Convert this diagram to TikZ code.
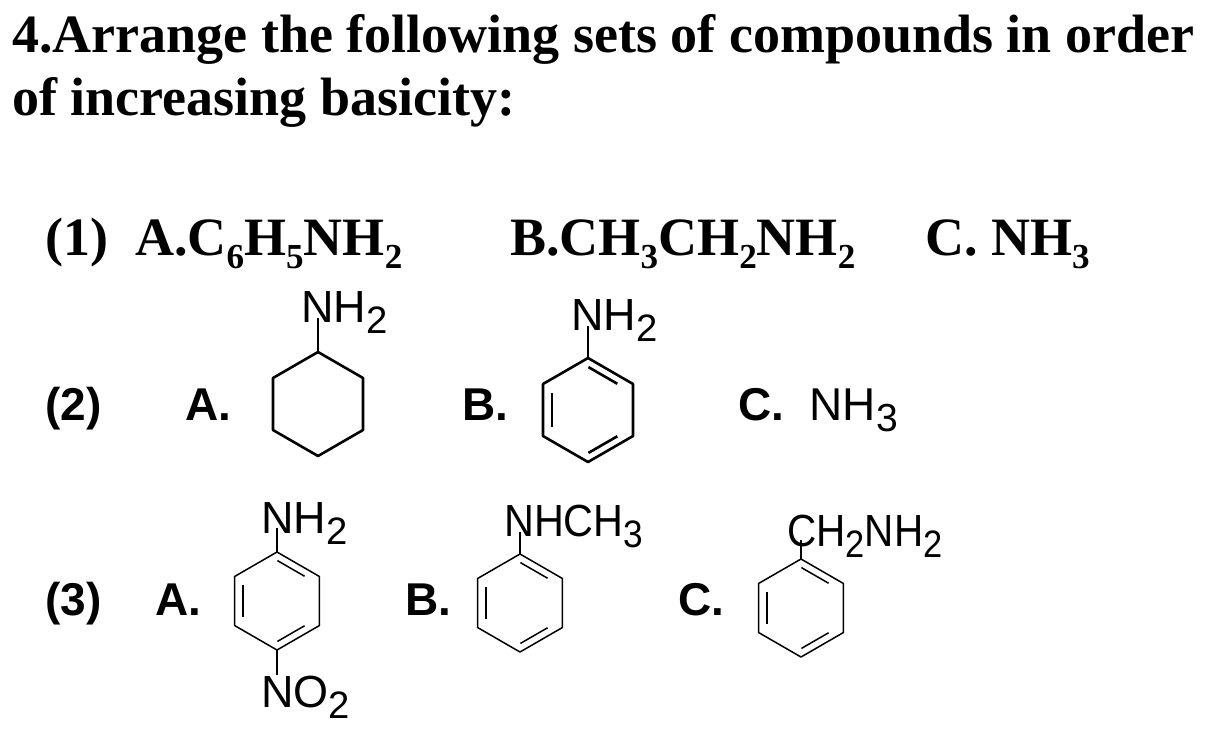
\documentclass[tikz,border=0pt]{standalone}
\usepackage{fontspec}
\setmainfont{Liberation Serif}
\newfontfamily\arial{Liberation Sans}
\newcommand{\sbs}[1]{\raisebox{-0.25em}{\scalebox{0.85}{#1}}}
\newcommand{\bsb}[1]{\raisebox{-0.25em}{\scalebox{0.65}{#1}}}
\newcommand{\benzring}[5]{% cx cy R linewidth aromatic(1/0)
  \begin{scope}[shift={(#1,#2)},line width=#4, line join=round]
    \draw (90:#3) -- (30:#3) -- (-30:#3) -- (-90:#3) -- (-150:#3) -- (150:#3) -- cycle;
    \ifnum#5=1
      \draw ($(90:#3)!0.18!(30:#3)+(210:0.17*#3)$) -- ($(30:#3)!0.18!(90:#3)+(210:0.17*#3)$);
      \draw ($(-90:#3)!0.18!(-30:#3)+(150:0.17*#3)$) -- ($(-30:#3)!0.18!(-90:#3)+(150:0.17*#3)$);
      \draw ($(150:#3)!0.18!(-150:#3)+(0:0.17*#3)$) -- ($(-150:#3)!0.18!(150:#3)+(0:0.17*#3)$);
    \fi
  \end{scope}}
\usetikzlibrary{calc}
\begin{document}
\begin{tikzpicture}[x=1pt,y=-1pt,
  ttl/.style={anchor=base west,inner sep=0,font=\fontsize{54}{60}\selectfont\bfseries},
  rw/.style={anchor=base west,inner sep=0,font=\fontsize{54}{60}\selectfont\bfseries},
  lab/.style={anchor=base west,inner sep=0,font=\arial\fontsize{46}{50}\selectfont\bfseries},
  grp/.style={anchor=base west,inner sep=0,font=\arial\fontsize{45}{50}\selectfont}]
\useasboundingbox (0,0) rectangle (1230,740);
\node[ttl] (t1) at (12,52) {4.Arrange the following sets of compounds in order};
\node[ttl] (t2) at (12,115) {of increasing basicity:};
\node[rw] (r1) at (45,255) {(1)\ \ A.C\bsb{6}H\bsb{5}NH\bsb{2}};
\node[rw] (r1b) at (510,255) {B.CH\bsb{3}CH\bsb{2}NH\bsb{2}};
\node[rw] (r1c) at (925,255) {C. NH\bsb{3}};
% row 2
\node[lab] (r2) at (45,420) {(2)};
\node[lab] (r2a) at (185,420) {A.};
\benzring{318}{404}{52}{2.6pt}{0}
\draw[line width=2.6pt] (318,352) -- (318,318);
\node[grp] (n2a) at (301,322) {NH\sbs{2}};
\node[lab] (r2b) at (462,420) {B.};
\benzring{588}{410}{52}{2.6pt}{1}
\draw[line width=2.6pt] (588,358) -- (588,326);
\node[grp] (n2b) at (571,330) {NH\sbs{2}};
\node[lab] (r2c) at (738,420) {C.\ \ \mdseries NH\sbs{3}};
% row 3
\node[lab] (r3) at (45,615) {(3)};
\node[lab] (r3a) at (155,615) {A.};
\benzring{277}{601}{49}{1.5pt}{1}
\draw[line width=1.5pt] (277,552) -- (277,528);
\draw[line width=1.5pt] (277,650) -- (277,675);
\node[grp] (n3a) at (261,533) {NH\sbs{2}};
\node[grp] (o3a) at (261,707) {NO\sbs{2}};
\node[lab] (r3b) at (405,615) {B.};
\benzring{520}{603}{49}{1.5pt}{1}
\draw[line width=1.5pt] (520,554) -- (520,532);
\node[grp,xscale=0.92] (n3b) at (504,536) {NHCH\sbs{3}};
\node[lab] (r3c) at (678,615) {C.};
\benzring{801}{608}{49}{1.5pt}{1}
\draw[line width=1.5pt] (801,559) -- (801,540);
\node[grp,xscale=0.9] (n3c) at (787,546) {CH\sbs{2}NH\sbs{2}};
\end{tikzpicture}
\end{document}
